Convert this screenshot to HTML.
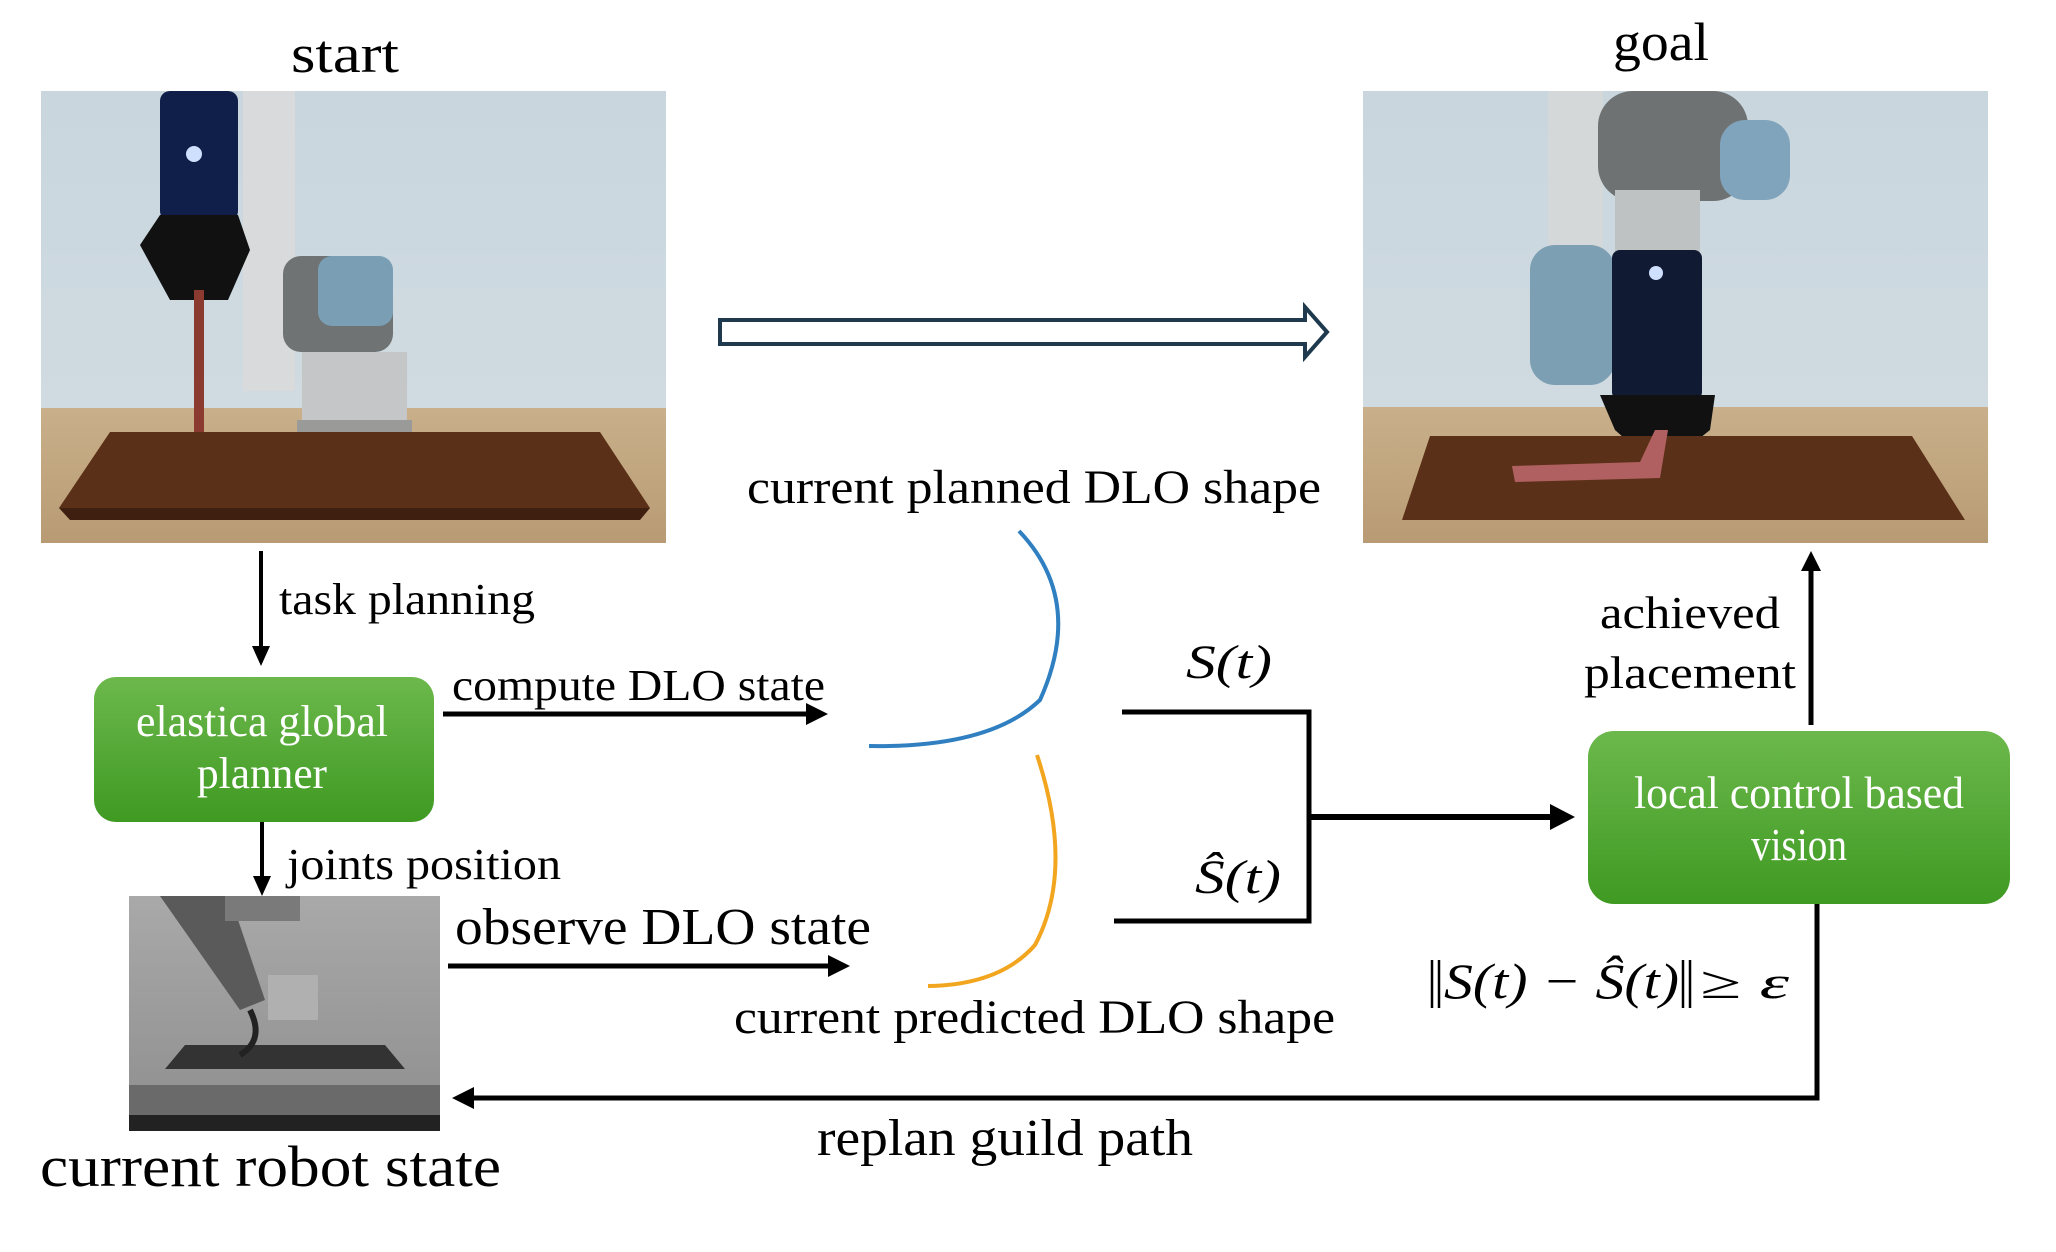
<!DOCTYPE html>
<html><head><meta charset="utf-8"><style>
html,body{margin:0;padding:0;background:#fff;}
svg{display:block;}
text{font-family:"Liberation Serif","Times New Roman",serif;fill:#000;}
</style></head><body>
<svg width="2056" height="1252" viewBox="0 0 2056 1252" xmlns="http://www.w3.org/2000/svg" font-family="Liberation Serif, serif">
<defs>
<linearGradient id="gr" x1="0" y1="0" x2="0" y2="1"><stop offset="0" stop-color="#6cb84c"/><stop offset="1" stop-color="#3f9a22"/></linearGradient>
<linearGradient id="wall" x1="0" y1="0" x2="0" y2="1"><stop offset="0" stop-color="#c9d6de"/><stop offset="1" stop-color="#d3dde2"/></linearGradient>
<linearGradient id="tab" x1="0" y1="0" x2="0" y2="1"><stop offset="0" stop-color="#c9b08a"/><stop offset="1" stop-color="#b89b74"/></linearGradient>
<linearGradient id="gw" x1="0" y1="0" x2="0" y2="1"><stop offset="0" stop-color="#a9a9a9"/><stop offset="1" stop-color="#8e8e8e"/></linearGradient>
</defs>

<!-- START photo -->
<rect x="41" y="91" width="625" height="452" fill="url(#wall)"/>
<rect x="41" y="408" width="625" height="135" fill="url(#tab)"/>
<rect x="243" y="91" width="52" height="300" fill="#d8dadb"/>
<rect x="283" y="256" width="110" height="96" rx="18" fill="#6f7374"/>
<rect x="318" y="256" width="75" height="70" rx="14" fill="#7a9fb5"/>
<rect x="302" y="352" width="105" height="78" fill="#c4c6c7"/>
<rect x="297" y="420" width="115" height="14" fill="#9a9a98"/>
<rect x="160" y="91" width="78" height="130" rx="10" fill="#0f1f4a"/>
<circle cx="194" cy="154" r="8" fill="#cfe0ff"/>
<path d="M160 215 L238 215 L250 250 L228 300 L170 300 L140 245 Z" fill="#111"/>
<rect x="194" y="290" width="10" height="185" fill="#8a3a2e"/>
<path d="M59 508 L110 432 L600 432 L650 508 Z" fill="#5b3018"/>
<path d="M59 508 L650 508 L640 520 L70 520 Z" fill="#3f1f10"/>

<!-- GOAL photo -->
<rect x="1363" y="91" width="625" height="452" fill="url(#wall)"/>
<rect x="1363" y="407" width="625" height="136" fill="url(#tab)"/>
<rect x="1548" y="91" width="55" height="260" fill="#d5d8d9"/>
<rect x="1530" y="245" width="85" height="140" rx="25" fill="#7d9fb4"/>
<rect x="1598" y="91" width="150" height="110" rx="35" fill="#6f7272"/>
<rect x="1720" y="120" width="70" height="80" rx="25" fill="#7fa4bb"/>
<rect x="1615" y="190" width="85" height="70" fill="#bfc2c3"/>
<rect x="1612" y="250" width="90" height="150" rx="8" fill="#111a33"/>
<circle cx="1656" cy="273" r="7" fill="#cfe0ff"/>
<path d="M1600 395 L1715 395 L1710 430 L1660 470 L1615 430 Z" fill="#111"/>
<path d="M1402 520 L1430 436 L1912 436 L1965 520 Z" fill="#5b3018"/>
<path d="M1512 466 L1640 462 L1655 430 L1668 430 L1660 478 L1515 482 Z" fill="#b06060"/>

<!-- current robot state photo -->
<rect x="129" y="896" width="311" height="235" fill="url(#gw)"/>
<rect x="129" y="1085" width="311" height="46" fill="#6a6a6a"/>
<rect x="129" y="1115" width="311" height="16" fill="#222"/>
<path d="M160 896 L230 896 L265 1000 L240 1010 Z" fill="#5a5a5a"/>
<rect x="225" y="896" width="75" height="25" fill="#7a7a7a"/>
<rect x="268" y="975" width="50" height="45" fill="#b0b0b0"/>
<path d="M165 1069 L185 1045 L385 1045 L405 1069 Z" fill="#333"/>
<path d="M250 1010 Q265 1040 240 1055" stroke="#222" stroke-width="6" fill="none"/>

<!-- titles -->
<text x="345" y="72" font-size="54" text-anchor="middle" textLength="108" lengthAdjust="spacingAndGlyphs">start</text>
<text x="1661" y="60" font-size="54" text-anchor="middle" textLength="96" lengthAdjust="spacingAndGlyphs">goal</text>

<!-- hollow arrow -->
<path d="M720 320 L1305 320 L1305 307 L1327 332 L1305 357 L1305 344 L720 344 Z" fill="#fff" stroke="#1f3a4e" stroke-width="4"/>

<text x="747" y="503" font-size="48" textLength="574" lengthAdjust="spacingAndGlyphs">current planned DLO shape</text>
<path d="M1019 531 Q1085 600 1040 700 Q990 748 869 746" stroke="#2f7fc1" stroke-width="4" fill="none"/>
<path d="M1037 755 Q1075 870 1035 945 Q1000 985 928 986" stroke="#f2a51f" stroke-width="4" fill="none"/>

<!-- task planning -->
<line x1="261" y1="551" x2="261" y2="648" stroke="#000" stroke-width="4"/>
<path d="M252 646 L270 646 L261 666 Z" fill="#000"/>
<text x="279" y="614" font-size="44" textLength="256" lengthAdjust="spacingAndGlyphs">task planning</text>

<!-- box 1 -->
<rect x="94" y="677" width="340" height="145" rx="22" fill="url(#gr)"/>
<text x="262" y="736" font-size="44" text-anchor="middle" style="fill:#fff" textLength="252" lengthAdjust="spacingAndGlyphs">elastica global</text>
<text x="262" y="788" font-size="44" text-anchor="middle" style="fill:#fff" textLength="130" lengthAdjust="spacingAndGlyphs">planner</text>

<text x="452" y="700" font-size="44" textLength="373" lengthAdjust="spacingAndGlyphs">compute DLO state</text>
<line x1="443" y1="714" x2="810" y2="714" stroke="#000" stroke-width="5"/>
<path d="M806 703 L828 714 L806 725 Z" fill="#000"/>

<line x1="262" y1="822" x2="262" y2="878" stroke="#000" stroke-width="4"/>
<path d="M253 876 L271 876 L262 896 Z" fill="#000"/>
<text x="287" y="879" font-size="44" textLength="274" lengthAdjust="spacingAndGlyphs">joints position</text>

<text x="40" y="1186" font-size="58" textLength="461" lengthAdjust="spacingAndGlyphs">current robot state</text>
<text x="455" y="944" font-size="52" textLength="416" lengthAdjust="spacingAndGlyphs">observe DLO state</text>
<line x1="448" y1="966" x2="832" y2="966" stroke="#000" stroke-width="5"/>
<path d="M828 955 L850 966 L828 977 Z" fill="#000"/>
<text x="734" y="1033" font-size="48" textLength="601" lengthAdjust="spacingAndGlyphs">current predicted DLO shape</text>

<!-- S(t) -->
<text x="1186" y="678" font-size="48" font-style="italic" textLength="86" lengthAdjust="spacingAndGlyphs">S(t)</text>
<text x="1195" y="893" font-size="48" font-style="italic" textLength="86" lengthAdjust="spacingAndGlyphs">Ŝ(t)</text>
<path d="M1122 712 L1309 712 L1309 921 L1114 921" stroke="#000" stroke-width="5" fill="none"/>
<line x1="1309" y1="817" x2="1555" y2="817" stroke="#000" stroke-width="6"/>
<path d="M1550 804 L1575 817 L1550 830 Z" fill="#000"/>

<!-- box 2 -->
<rect x="1588" y="731" width="422" height="173" rx="26" fill="url(#gr)"/>
<text x="1799" y="808" font-size="46" text-anchor="middle" style="fill:#fff" textLength="330" lengthAdjust="spacingAndGlyphs">local control based</text>
<text x="1799" y="860" font-size="46" text-anchor="middle" style="fill:#fff" textLength="96" lengthAdjust="spacingAndGlyphs">vision</text>

<line x1="1811" y1="725" x2="1811" y2="568" stroke="#000" stroke-width="5"/>
<path d="M1801 571 L1821 571 L1811 551 Z" fill="#000"/>
<text x="1690" y="628" font-size="46" text-anchor="middle" textLength="180" lengthAdjust="spacingAndGlyphs">achieved</text>
<text x="1690" y="688" font-size="46" text-anchor="middle" textLength="212" lengthAdjust="spacingAndGlyphs">placement</text>

<line x1="1432" y1="960" x2="1432" y2="1008" stroke="#000" stroke-width="2.5"/>
<line x1="1439" y1="960" x2="1439" y2="1008" stroke="#000" stroke-width="2.5"/>
<text x="1444" y="998" font-size="50" font-style="italic" textLength="235" lengthAdjust="spacingAndGlyphs">S(t) − Ŝ(t)</text>
<line x1="1683" y1="960" x2="1683" y2="1008" stroke="#000" stroke-width="2.5"/>
<line x1="1690" y1="960" x2="1690" y2="1008" stroke="#000" stroke-width="2.5"/>
<text x="1700" y="998" font-size="46" font-style="italic" textLength="89" lengthAdjust="spacingAndGlyphs">≥ ε</text>

<path d="M1817 904 L1817 1098 L470 1098" stroke="#000" stroke-width="5" fill="none"/>
<path d="M474 1087 L452 1098 L474 1109 Z" fill="#000"/>
<text x="817" y="1155" font-size="52" textLength="376" lengthAdjust="spacingAndGlyphs">replan guild path</text>
</svg>
</body></html>
